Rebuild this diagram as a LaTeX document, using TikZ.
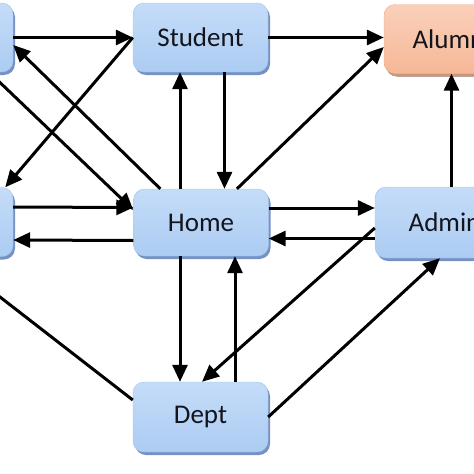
\documentclass[tikz,border=0pt]{standalone}
\usepackage{fontspec}
\setmainfont{Carlito}
\usetikzlibrary{arrows.meta, shadows}
\definecolor{boxtop}{RGB}{196,220,248}
\definecolor{boxmid}{RGB}{238,245,253}
\definecolor{boxbot}{RGB}{172,204,243}
\definecolor{boxline}{RGB}{160,196,238}
\definecolor{boxshade}{RGB}{118,146,196}
\definecolor{alutop}{RGB}{250,208,186}
\definecolor{alumid}{RGB}{254,236,226}
\definecolor{alubot}{RGB}{246,184,150}
\definecolor{aluline}{RGB}{240,176,142}
\definecolor{alushade}{RGB}{205,150,120}
\definecolor{txt}{RGB}{20,20,28}

\begin{document}
\begin{tikzpicture}[x=1pt, y=-1pt,
  box/.style={draw=boxline, rounded corners=11pt, minimum width=135pt,
    minimum height=69pt, inner sep=0pt, top color=boxtop, middle color=boxmid,
    bottom color=boxbot, drop shadow={shadow xshift=2pt, shadow yshift=-3pt,
    fill=boxshade, opacity=1}, font=\fontsize{27}{31}\selectfont, text=txt},
  alubox/.style={box, draw=aluline, top color=alutop, middle color=alumid,
    bottom color=alubot, drop shadow={shadow xshift=2pt, shadow yshift=-3pt,
    fill=alushade, opacity=1}},
  link/.style={-{Triangle[length=17pt,width=15pt]}, line width=3pt},
  plain/.style={line width=3pt}]
\path[use as bounding box] (0,0) rectangle (474,474);
\clip (0,0) rectangle (474,474);
\node[box] (tl) at (-54.5,37.5) {};
\node[box] (student) at (200.5,37.5) {Student};
\node[alubox] (alumni) at (451.5,39) {Alumni};
\node[box] (lm) at (-54.5,222) {};
\node[box, minimum height=67pt] (home) at (201,222.5) {Home};
\node[box, minimum width=139pt, minimum height=71pt] (admin) at (444.5,222.5) {Admin};
\node[box, minimum height=70pt] (dept) at (200.5,417) {Dept};
\coordinate (lo) at (-20,281.5);
% Arrows
\draw[link] (tl.east) -- (student.west);
\draw[link] ([xshift=27pt]home.north west) -- ([yshift=-7.5pt]tl.east);
\draw[link] (student.west) -- ([xshift=-8pt]lm.north east);
\draw[link] ([xshift=-24pt]tl.south east) -- ([yshift=12.5pt]home.west);
\draw[link] ([yshift=15pt]lm.east) -- ([yshift=15pt]home.west);
\draw[link] ([yshift=-18pt]home.west) -- ([yshift=-18pt]lm.east);
\draw[link] ([xshift=-21pt]home.north) -- ([xshift=-21pt]home.north |- student.south);
\draw[link] ([xshift=24pt]student.south) -- ([xshift=24pt]student.south |- home.north);
\draw[link] (student.east) -- (student.east -| alumni.west);
\draw[link] ([xshift=36pt]home.north) -- ([yshift=-8pt]alumni.west);
\draw[link] ([xshift=7pt]admin.north) -- ([xshift=7pt]admin.north |- alumni.south);
\draw[link] ([yshift=14.5pt]home.east) -- ([yshift=14.5pt]home.east -| admin.west);
\draw[link] ([yshift=-16pt]admin.west) -- ([yshift=-16pt]admin.west -| home.east);
\draw[link] ([yshift=-5.5pt]admin.west) -- ([xshift=1.5pt]dept.north);
\draw[link] ([xshift=34.5pt]dept.north) -- ([xshift=34.5pt]dept.north |- home.south);
\draw[link] ([xshift=-21pt]home.south) -- ([xshift=-21pt]home.south |- dept.north);
\draw[link] (dept.east) -- ([xshift=-4.5pt]admin.south);
\draw[plain] ([yshift=17pt]dept.west) -- (lo);
\end{tikzpicture}
\end{document}
